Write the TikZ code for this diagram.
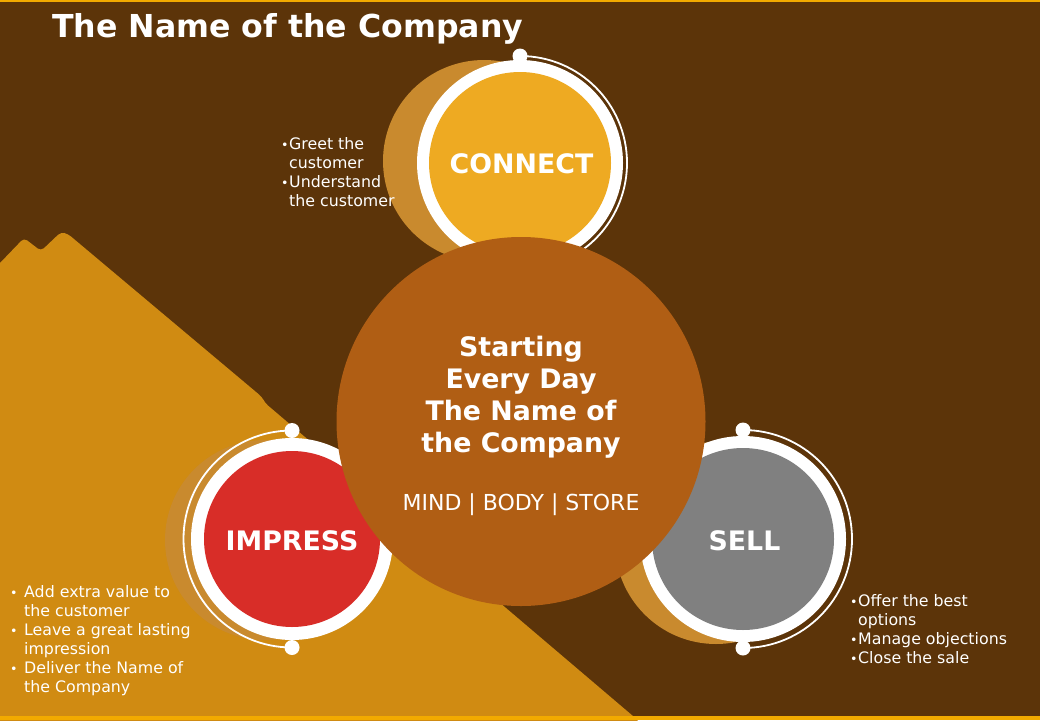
\documentclass[tikz,border=0pt]{standalone}
\usepackage{fontspec}
\setmainfont{DejaVu Sans}
\usetikzlibrary{calc}
\definecolor{bgbrown}{RGB}{92,52,9}
\definecolor{mount}{RGB}{208,139,18}
\definecolor{shadowc}{RGB}{201,138,46}
\definecolor{connectc}{RGB}{238,170,34}
\definecolor{hubc}{RGB}{176,94,20}
\definecolor{impressc}{RGB}{216,45,40}
\definecolor{sellc}{RGB}{128,128,128}
\definecolor{barc}{RGB}{242,170,0}
\newcommand\bulsym{\scalebox{0.8}{\textbullet}}
\newcommand\mybul{\makebox[8pt][l]{\bulsym}}
\newcommand\myind{\hspace*{8pt}}
\newcommand\widebul{\makebox[14pt][l]{\bulsym}}
\newcommand\wideind{\hspace*{14pt}}
\begin{document}
\begin{tikzpicture}[x=1pt,y=1pt,
 disc/.style={circle, inner sep=0pt, draw=none, minimum size=#1},
 knob/.style={circle, fill=white, inner sep=0pt, minimum size=15pt},
 thinarc/.style={draw=white, line width=1.8pt},
 biglabel/.style={text=white, font=\fontsize{26.8}{32}\selectfont\bfseries},
 bullets/.style={text=white, anchor=north west, inner sep=0pt, align=left, font=\fontsize{15.8}{19}\selectfont}
]
\useasboundingbox (0,0) rectangle (1040,-720);
\fill[bgbrown] (0,0) rectangle (1040,-720);
% mountain
\fill[mount, rounded corners=4pt] (-5,-268) -- (0,-263) -- (24,-238) -- (41,-251) -- (61,-232) -- (68,-234) -- (262,-397) -- (265,-403) -- (640,-722) -- (-5,-722) -- cycle;
% bars
\fill[barc] (0,0) rectangle (1040,-2);
\fill[barc] (0,-716) rectangle (1040,-720);
% shadows
\node[disc=202pt, fill=shadowc] (cshadow) at (484,-161) {};
\node[disc=200pt, fill=shadowc] (ishadow) at (265,-540) {};
\node[disc=202pt, fill=shadowc] (sshadow) at (716,-543) {};
% rings
\node[disc=206pt, fill=white] (cring) at (520,-163) {};
\node[disc=202pt, fill=white] (iring) at (292,-539) {};
\node[disc=206pt, fill=white] (sring) at (743,-539) {};
% inner discs
\node[disc=182pt, fill=connectc] (connect) at (520,-163) {};
\node[disc=176pt, fill=impressc] (impress) at (292,-539) {};
\node[disc=182pt, fill=sellc] (sell) at (743,-539) {};
\node[biglabel] (connectlbl) at (521.5,-164) {CONNECT};
\node[biglabel] (impresslbl) at (292,-541) {IMPRESS};
\node[biglabel] (selllbl) at (744.5,-541) {SELL};
% thin arcs
\draw[thinarc] ($(connect.center)+(90:107pt)$) arc[start angle=90, end angle=-75, radius=107pt];
\draw[thinarc] ($(impress.center)+(90:108.5pt)$) arc[start angle=90, end angle=270, radius=108.5pt];
\draw[thinarc] ($(sell.center)+(90:109pt)$) arc[start angle=90, end angle=-90, radius=109pt];
% knobs
\node[knob] (cknob) at ($(connect.center)+(90:107pt)$) {};
\node[knob] (iknobt) at ($(impress.center)+(90:108.5pt)$) {};
\node[knob] (iknobb) at ($(impress.center)+(-90:108.5pt)$) {};
\node[knob] (sknobt) at ($(sell.center)+(90:109pt)$) {};
\node[knob] (sknobb) at ($(sell.center)+(-90:109pt)$) {};
% hub
\node[disc=369pt, fill=hubc] (hub) at (521,-421.5) {};
\node[biglabel, align=center] (hubtxt) at (521,-397) {Starting\\Every Day\\The Name of\\the Company};
\node[text=white, font=\fontsize{22}{26}\selectfont] (mbs) at (521,-505) {MIND | BODY | STORE};
% bullets
\node[bullets] (cbul) at (281,-137) {\mybul Greet the\\\myind customer\\\mybul Understand\\\myind the customer};
\node[bullets] (ibul) at (10,-585) {\widebul Add extra value to\\\wideind the customer\\\widebul Leave a great lasting\\\wideind impression\\\widebul Deliver the Name of\\\wideind the Company};
\node[bullets] (sbul) at (850,-594) {\mybul Offer the best\\\myind options\\\mybul Manage objections\\\mybul Close the sale};
% title
\node[anchor=base west, inner sep=0pt, text=white, font=\fontsize{31.6}{38}\selectfont\bfseries] (title) at (52,-37) {The Name of the Company};
\end{tikzpicture}
\end{document}
